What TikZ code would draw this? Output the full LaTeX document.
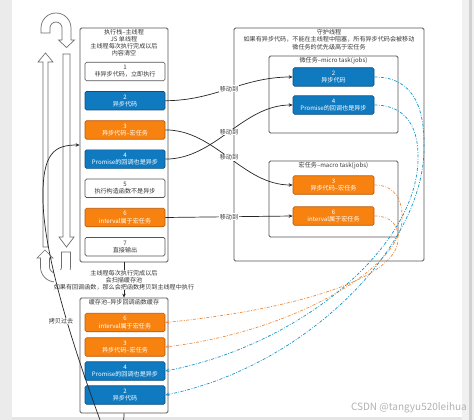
\documentclass[tikz,border=0pt]{standalone}
\usepackage{fontspec}
\setmainfont{Noto Sans CJK SC}
\usetikzlibrary{arrows.meta}
\definecolor{bfill}{RGB}{16,122,192}
\definecolor{bdraw}{RGB}{12,80,130}
\definecolor{ofill}{RGB}{247,130,15}
\definecolor{odraw}{RGB}{185,90,10}
\definecolor{bdash}{RGB}{20,150,200}
\definecolor{odash}{RGB}{240,140,60}
\definecolor{frame}{RGB}{85,85,85}
\definecolor{txt}{RGB}{55,55,55}
\begin{document}
\begin{tikzpicture}[x=1pt,y=-1pt, font=\fontsize{6.1}{7.2}\selectfont,
  box/.style={rounded corners=1.5pt, minimum width=80pt, minimum height=18.5pt, inner sep=0pt, align=center, line width=0.7pt},
  wbox/.style={box, draw=frame, fill=white, text=txt},
  bbox/.style={box, draw=bdraw, fill=bfill, text=white},
  obox/.style={box, draw=odraw, fill=ofill, text=white},
  cont/.style={draw=frame, rounded corners=1.5pt, line width=0.8pt, inner sep=0pt},
  ttl/.style={text=txt, align=center, inner sep=0pt},
  conn/.style={draw=black!85, line width=0.7pt, -{Stealth[length=4pt,width=3.5pt]}},
  lbl/.style={fill=white, text=txt, inner sep=0.6pt},
  hollow/.style={draw=frame!85, fill=white, line width=0.7pt, line join=miter},
  bdl/.style={draw=bdash, line width=0.7pt, dash pattern=on 3pt off 1.5pt on 0.8pt off 1.5pt, -{Stealth[length=4pt,width=3.5pt]}},
  odl/.style={draw=odash, line width=0.7pt, dash pattern=on 3pt off 1.5pt on 0.8pt off 1.5pt, -{Stealth[length=4pt,width=3.5pt]}}]
\useasboundingbox (0,0) rectangle (474,420);
\clip (0,0) rectangle (474,420);
% page background
\fill[white] (0,0) rectangle (474,420);
\fill[black!8] (0,0) rectangle (12,420);
\fill[black!6] (462,0) rectangle (474,420);
\fill[black!18] (469,0) rectangle (472,420);
\fill[black!10] (12,417) rectangle (462,420);

% hollow loop arrows
\path[hollow] (41,33) -- (41,28) .. controls (41,19.7) and (47.7,13) .. (56,13) .. controls (64.3,13) and (71,19.7) .. (71,28) -- (71,40) -- (74.5,40) -- (66.5,47.5) -- (58.5,40) -- (62,40) -- (62,28) .. controls (62,24.7) and (59.3,22) .. (56,22) .. controls (52.7,22) and (50,24.7) .. (50,28) -- (50,33) -- cycle;
\path[hollow] (63,54) -- (70,54) -- (70,237) -- (74,237) -- (66.5,247) -- (59,237) -- (63,237) -- cycle;
\path[hollow] (43,247) -- (43,62) -- (38,62) -- (45.5,53) -- (53,62) -- (48,62) -- (48,247) -- cycle;
\path[hollow] (61.5,252) -- (70.5,252) -- (70.5,267) .. controls (70.5,275.3) and (63.8,282) .. (55.5,282) .. controls (47.2,282) and (40.5,275.3) .. (40.5,267) -- (40.5,258) -- (37,258) -- (45,250) -- (53,258) -- (49.5,258) -- (49.5,267) .. controls (49.5,270.3) and (52.2,273) .. (55.5,273) .. controls (58.8,273) and (61.5,270.3) .. (61.5,267) -- cycle;

% main stack
\node[cont, minimum width=88pt, minimum height=234pt] (main) at (124,145) {};
\node[ttl] (maint) at (124,42.5) {执行栈--主线程\\JS 单线程\\主线程每次执行完成以后\\内容清空};
\node[wbox] (m1) at (125,71.5) {1\\非异步代码，立即执行};
\node[bbox] (m2) at (125,100.7) {2\\异步代码};
\node[obox] (m3) at (125,129.9) {3\\异步代码--宏任务};
\node[bbox] (m4) at (125,159.1) {4\\Promise的回调也是异步};
\node[wbox] (m5) at (125,188.3) {5\\执行构造函数不是异步};
\node[obox] (m6) at (125,217.5) {6\\interval属于宏任务};
\node[wbox] (m7) at (125,246.7) {7\\直接输出};

% cache pool
\node[cont, minimum width=88pt, minimum height=115pt] (cache) at (124,355.5) {};
\node[ttl] (cachet) at (124,302.5) {缓存池--异步回调函数缓存};
\node[obox] (c6) at (125,322.5) {6\\interval属于宏任务};
\node[obox] (c3) at (125,347) {3\\异步代码--宏任务};
\node[bbox] (c4) at (125,371) {4\\Promise的回调也是异步};
\node[bbox] (c2) at (125,395) {2\\异步代码};

% guard thread
\node[cont, minimum width=190pt, minimum height=233pt] (guard) at (329,144.5) {};
\node[ttl] (guardt) at (329,39.5) {守护线程\\如果有异步代码，不能在主线程中阻塞，所有异步代码会被移动\\微任务的优先级高于宏任务};
\node[cont, minimum width=129pt, minimum height=77pt] (micro) at (333.5,94.5) {};
\node[ttl] (microt) at (333.5,60.5) {微任务--micro task(jobs)};
\node[bbox, minimum width=81pt] (u2) at (333.5,77) {2\\异步代码};
\node[bbox, minimum width=81pt] (u4) at (333.5,105) {4\\Promise的回调也是异步};
\node[cont, minimum width=129pt, minimum height=76pt] (macro) at (333.5,199) {};
\node[ttl] (macrot) at (333.5,165.5) {宏任务--macro task(jobs)};
\node[obox, minimum width=81pt] (a3) at (333.5,185) {3\\异步代码--宏任务};
\node[obox, minimum width=81pt] (a6) at (333.5,216) {6\\interval属于宏任务};

% move-to connectors
\draw[conn] (m2.east) .. controls +(50,0) and +(-50,0) .. (u2.west) node[lbl, pos=0.5] {移动到};
\draw[conn] (m3.east) .. controls +(50,0) and +(-50,0) .. (a3.west) node[lbl, pos=0.5] {移动到};
\draw[conn] (m4.east) .. controls +(50,0) and +(-50,0) .. (u4.west) node[lbl, pos=0.5] {移动到};
\draw[conn] (m6.east) -- (a6.west) node[lbl, pos=0.5] {移动到};

% main -> cache
\draw[conn] (main.south) -- (cache.north) node[lbl, midway, fill=white, align=center, inner sep=0.3pt] {主线程每次执行完成以后\\会扫描缓存池\\如果有回调函数，那么会把函数拷贝到主线程中执行};

% copy back curve
\draw[conn] (cache.south) .. controls (124,445) and (105,440) .. (100,420) .. controls (80,365) and (44,262) .. (43,200) .. controls (42,152) and (55,145) .. (main.west);
\node[lbl] (copylbl) at (61,321) {拷贝过去};

% dash-dot curves into cache
\draw[odl] (a6.east) .. controls (392,216) and (399,226) .. (398,240) .. controls (396,280) and (290,310) .. (c6.east);
\draw[odl] (a3.east) .. controls (395,185) and (403,200) .. (402,220) .. controls (400,270) and (290,332) .. (c3.east);
\draw[bdl] (u4.east) .. controls (408,105) and (419,130) .. (418,160) .. controls (416,248) and (300,345) .. (c4.east);
\draw[bdl] (u2.east) .. controls (415,77) and (425,110) .. (424,150) .. controls (422,252) and (300,368) .. (c2.east);

% watermark
\node[text=black!30, font=\fontsize{10}{12}\selectfont, anchor=east, inner sep=0pt] (wm) at (467,408) {CSDN @tangyu520leihua};
\end{tikzpicture}
\end{document}
